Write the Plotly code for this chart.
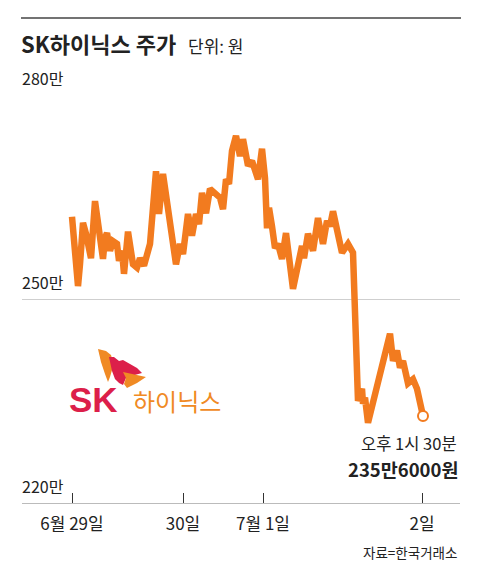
import plotly.graph_objects as go

# ---- data (x: trading-time position, y: price in 만원) ----
t = [0, 6, 8, 11, 14, 19, 23, 28, 31, 33, 35, 38, 41, 45, 47, 50, 52, 56, 61, 65,
     68, 72, 78, 84, 87, 91, 104, 108, 111, 116, 120, 124, 127, 130, 134, 138, 142,
     148, 151, 154, 157, 160, 164, 168, 171, 176, 180, 186, 190, 193, 195, 197, 200,
     203, 206, 210, 214, 221, 230, 232, 236, 241, 246, 251, 255, 258, 261, 265, 270,
     276, 281, 286, 288, 290, 291, 293, 296, 318, 321, 325, 328, 331, 336, 341, 345, 351]
price = [262.1, 251.9, 255.1, 261.2, 259.6, 256.0, 264.4, 259.0, 255.9, 259.0, 259.7,
         257.1, 258.5, 258.1, 255.6, 257.1, 253.7, 259.9, 255.1, 254.6, 256.0, 254.9,
         258.1, 268.8, 262.5, 268.4, 255.1, 258.1, 256.6, 262.5, 259.3, 262.5, 261.0,
         265.6, 262.6, 266.2, 265.6, 264.9, 263.2, 267.6, 266.9, 271.8, 274.0, 271.0,
         273.5, 269.6, 270.3, 267.6, 272.1, 267.8, 260.4, 263.4, 260.7, 257.5, 258.1,
         255.9, 259.7, 251.5, 257.8, 256.0, 259.6, 257.1, 261.9, 258.1, 261.5, 260.7,
         262.9, 260.4, 256.8, 258.1, 256.8, 235.0, 236.2, 236.8, 234.6, 235.5, 231.8,
         244.9, 240.9, 242.4, 239.9, 240.9, 237.6, 238.2, 236.8, 232.8]

x_tickvals = [0, 111, 191, 350]
x_ticktext = ["6월 29일", "30일", "7월 1일", "2일"]
y_tickvals = [220, 250, 280]
y_ticktext = ["220만", "250만", "280만"]

title_text = "<b>SK하이닉스 주가</b>"
unit_text = "단위: 원"
last_time = "오후 1시 30분"
last_price = "235만6000원"
source_text = "자료=한국거래소"

ORANGE = "#F27B1F"
RED = "#DC1F4A"
LOGO_OR = "#F08A24"
FONT = "Noto Sans CJK KR"

W, H = 480, 580
L, R, T, B = 22, 20, 95, 77
PW, PH = W - L - R, H - T - B


def px(x, y):
    return (x - L) / PW, (H - B - y) / PH


def path(points):
    s = ""
    for i, (x, y) in enumerate(points):
        xp, yp = px(x, y)
        s += ("M" if i == 0 else "L") + f"{xp:.4f},{yp:.4f} "
    return s + "Z"


fig = go.Figure()
fig.add_trace(go.Scatter(x=t, y=price, mode="lines",
                         line=dict(color=ORANGE, width=6.5), hoverinfo="skip"))
fig.add_trace(go.Scatter(x=[t[-1]], y=[price[-1]], mode="markers",
                         marker=dict(size=10, color="white",
                                     line=dict(color=ORANGE, width=2)),
                         hoverinfo="skip"))

shapes = []
# top rule
x0, y0 = px(21, 18)
x1, _ = px(461, 18)
shapes.append(dict(type="line", xref="paper", yref="paper", x0=x0, x1=x1, y0=y0, y1=y0,
                   line=dict(color="#444", width=1.5)))
# logo butterfly
wing1 = [(98, 349), (106, 351), (111, 355), (113, 362), (112, 370), (110, 377),
         (108, 382), (105, 374), (101, 362)]
body = [(109, 357), (114, 357), (119, 361), (123, 360), (130, 364), (137, 368),
        (142, 373), (131, 376), (126, 378), (123, 385), (119, 383), (115, 379),
        (112, 371)]
wing2 = [(123, 372), (146, 377), (137, 383), (127, 388), (124, 384), (126, 378)]
for pts, col in [(wing1, LOGO_OR), (body, RED), (wing2, LOGO_OR)]:
    shapes.append(dict(type="path", xref="paper", yref="paper", path=path(pts),
                       fillcolor=col, line=dict(width=0)))

annotations = []


def ann(text, x, y, size, color="#222", xanchor="left", family=FONT):
    xp, yp = px(x, y)
    annotations.append(dict(text=text, x=xp, y=yp, xref="paper", yref="paper",
                            xanchor=xanchor, yanchor="middle", showarrow=False,
                            font=dict(size=size, color=color, family=family)))


ann(title_text, 19, 43, 22)
ann(unit_text, 186, 45, 17)
for v, lab in zip(y_tickvals, y_ticktext):
    annotations.append(dict(text=lab, x=0, y=v, xref="paper", yref="y", xanchor="left",
                            yanchor="bottom", yshift=3, xshift=-2, showarrow=False,
                            font=dict(size=16, color="#222", family=FONT)))
ann(last_time, 459, 443, 16.5, xanchor="right")
ann("<b>" + last_price + "</b>", 460, 469, 18.5, xanchor="right")
ann(source_text, 459, 552, 13.5, xanchor="right")
# logo text
ann("<b>SK</b>", 67, 399, 35, color=RED, family="Liberation Sans")
ann("하이닉스", 131, 400, 24, color=LOGO_OR)

fig.update_layout(
    width=W, height=H, margin=dict(l=L, r=R, t=T, b=B),
    paper_bgcolor="white", plot_bgcolor="white", showlegend=False,
    font=dict(family=FONT, color="#222"),
    shapes=shapes, annotations=annotations,
    xaxis=dict(range=[-50, 388], tickvals=x_tickvals, ticktext=x_ticktext,
               ticks="inside", ticklen=10, tickwidth=1, tickcolor="#333",
               showgrid=False, zeroline=False, showline=True, linecolor="#bbb",
               linewidth=1.2, tickfont=dict(size=17, color="#222", family=FONT),
               ticklabelstandoff=5, fixedrange=True),
    yaxis=dict(range=[220, 280], tickvals=y_tickvals, showticklabels=False,
               showgrid=True, gridcolor="#cfcfcf", gridwidth=1, zeroline=False,
               ticks="", fixedrange=True),
)

fig.write_html("out.html")
